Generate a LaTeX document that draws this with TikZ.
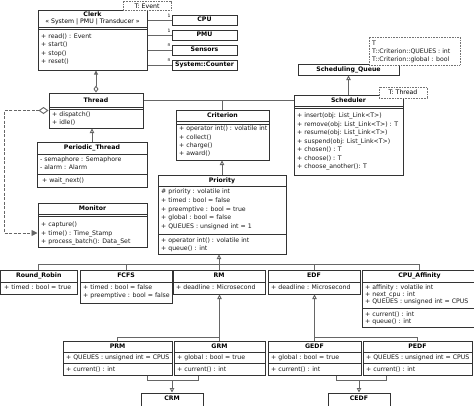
\documentclass[tikz,border=0pt]{standalone}
\usepackage{fontspec}
\setmainfont{DejaVu Sans}
\usetikzlibrary{arrows.meta,fit}
\newcounter{umlc}
\newcommand\umlbox[5]{\node[box, fit={(#2,#3) (#4,#5)}] (#1) {};}
\newcommand\umltitle[3]{\stepcounter{umlc}\node[ttl] (t\arabic{umlc}) at (#1,#2) {#3};}
\newcommand\umlmem[3]{\stepcounter{umlc}\node[mem] (m\arabic{umlc}) at (#1,#2) {#3};}
\newcommand\umlsep[3]{\draw[sep] (#1,#3) -- (#2,#3);}
\begin{document}
\begin{tikzpicture}[x=1pt,y=-1pt,
  font=\fontsize{6.2}{7.5}\selectfont,
  box/.style={draw=black!80, line width=1pt, fill=white, inner sep=0pt},
  sep/.style={draw=black!80, line width=0.6pt},
  ttl/.style={font=\fontsize{6.2}{7.5}\selectfont\bfseries, inner sep=0pt, text height=4.6pt, text depth=1.2pt},
  mem/.style={anchor=west, inner sep=0pt, text height=4.6pt, text depth=1.2pt, text=black!90},
  conn/.style={draw=black!60, line width=0.9pt},
  tmpl/.style={draw=black!55, dash pattern=on 0.8pt off 0.8pt, line width=0.6pt, fill=white, inner sep=0pt},
  gen/.style={conn, -{Triangle[open, length=4.5pt, width=4.5pt]}},
  mult/.style={font=\fontsize{4.5}{5}\selectfont, inner sep=0pt},
]
\useasboundingbox (0,0) rectangle (474,405);

% ---------- Clerk and peripherals ----------
\umlbox{clerk}{38}{10}{147}{70}
\umltitle{92.5}{14.5}{Clerk}
\node[inner sep=0pt, text height=4.6pt, text depth=1.2pt] (clerkst) at (92.5,22) {« System | PMU | Transducer »};
\umlsep{38}{147}{26.8}
\umlsep{38}{147}{29.3}
\umlmem{41}{37}{+ read() : Event}
\umlmem{41}{45.2}{+ start()}
\umlmem{41}{53.4}{+ stop()}
\umlmem{41}{61.6}{+ reset()}
\node[tmpl, fit={(123,0.8) (171,10.5)}] (tevent) {};
\node[inner sep=0pt] (teventl) at (147,6) {T: Event};

\umlbox{cpu}{172}{15}{237}{25}
\umltitle{204.5}{20}{CPU}
\umlbox{pmu}{172}{30}{237}{40}
\umltitle{204.5}{35}{PMU}
\umlbox{sensors}{172}{45}{237}{55}
\umltitle{204.5}{50}{Sensors}
\umlbox{counter}{172}{60}{237}{70}
\umltitle{204.5}{65}{System::Counter}

\draw[conn] (clerk.east |- cpu.west) -- (cpu.west);
\draw[conn] (clerk.east |- pmu.west) -- (pmu.west);
\draw[conn] (clerk.east |- sensors.west) -- (sensors.west);
\draw[conn] (clerk.east |- counter.west) -- (counter.west);
\node[mult] (mu1) at (169,15.5) {1};
\node[mult] (mu2) at (169,30.5) {1};
\node[mult] (mu3) at (169,45.5) {n};
\node[mult] (mu4) at (169,60.5) {n};

% ---------- Thread ----------
\umlbox{thread}{49}{93}{143}{128}
\umltitle{96}{100.5}{Thread}
\umlsep{49}{143}{107}
\umlsep{49}{143}{109.5}
\umlmem{52}{114.5}{+ dispatch()}
\umlmem{52}{122.8}{+ idle()}

\umlbox{pthread}{37}{142}{147}{187}
\umltitle{92}{147.5}{Periodic\_Thread}
\umlsep{37}{147}{153.8}
\umlmem{40}{160}{- semaphore : Semaphore}
\umlmem{40}{168}{- alarm : Alarm}
\umlsep{37}{147}{174}
\umlmem{42}{180.3}{+ wait\_next()}

\umlbox{monitor}{38}{203}{147}{247}
\umltitle{92.5}{209}{Monitor}
\umlsep{38}{147}{214}
\umlsep{38}{147}{216.4}
\umlmem{41}{225}{+ capture()}
\umlmem{41}{233.3}{+ time() : Time\_Stamp}
\umlmem{41}{241.6}{+ process\_batch(): Data\_Set}

\draw[conn, {Diamond[open,length=7pt,width=5pt]}-{Triangle[length=4pt,width=4pt]}] (thread.north) -- (thread.north |- clerk.south);
\draw[gen] (pthread.north) -- (pthread.north |- thread.south);
\draw[conn, dash pattern=on 3pt off 1.5pt, {Diamond[open,length=10pt,width=7pt]}-{Triangle[length=6pt,width=6pt]}] (thread.west) -- ++(-44,0) |- ([yshift=-8pt]monitor.west);

% ---------- Criterion ----------
\umlbox{criterion}{176}{110}{269}{160}
\umltitle{222.5}{116}{Criterion}
\umlsep{176}{269}{121.7}
\umlsep{176}{269}{123.9}
\umlmem{179}{129.2}{+ operator int() : volatile int}
\umlmem{179}{137.3}{+ collect()}
\umlmem{179}{145.3}{+ charge()}
\umlmem{179}{153.3}{+ award()}

% ---------- Scheduler ----------
\umlbox{squeue}{298}{64}{399}{75}
\umltitle{348.5}{70}{Scheduling\_Queue}
\node[tmpl, fit={(369,37) (460,65)}] (tsq) {};
\node[mem] (tsq1) at (372,43.3) {T};
\node[mem] (tsq2) at (372,51.7) {T::Criterion::QUEUES : int};
\node[mem] (tsq3) at (372,60) {T::Criterion::global : bool};

\umlbox{scheduler}{294}{95}{403}{175}
\umltitle{348.5}{101}{Scheduler}
\umlsep{294}{403}{106}
\umlsep{294}{403}{108.3}
\umlmem{297}{116}{+ insert(obj: List\_Link<T>)}
\umlmem{297}{124.4}{+ remove(obj: List\_Link<T>) : T}
\umlmem{297}{133.1}{+ resume(obj: List\_Link<T>)}
\umlmem{297}{141.6}{+ suspend(obj: List\_Link<T>)}
\umlmem{297}{150.1}{+ chosen() : T}
\umlmem{297}{158.7}{+ choose() : T}
\umlmem{297}{167.2}{+ choose\_another(): T}
\node[tmpl, fit={(379,87) (427,98)}] (tthread) {};
\node[inner sep=0pt] (tthreadl) at (403,92.5) {T: Thread};

\coordinate (assoc) at (0,100);
\draw[conn] (thread.east |- assoc) -- (scheduler.west |- assoc);
\draw[conn] (criterion.north) -- (criterion.north |- assoc);
\draw[gen] (scheduler.north) -- (scheduler.north |- squeue.south);

% ---------- Priority ----------
\umlbox{priority}{158}{175}{286}{254}
\umltitle{222}{180.5}{Priority}
\umlsep{158}{286}{186}
\umlmem{161}{192}{\# priority : volatile int}
\umlmem{161}{200.8}{+ timed : bool = false}
\umlmem{161}{209.4}{+ preemptive : bool = true}
\umlmem{161}{218.2}{+ global : bool = false}
\umlmem{161}{227}{+ QUEUES : unsigned int = 1}
\umlsep{158}{286}{234}
\umlmem{161}{241}{+ operator int() : volatile int}
\umlmem{161}{249}{+ queue() : int}
\draw[gen] (priority.north) -- (priority.north |- criterion.south);

% ---------- Policies ----------
\umlbox{rr}{0.5}{270}{77}{294}
\umltitle{38.75}{276}{Round\_Robin}
\umlsep{0.5}{77}{282}
\umlmem{4}{288}{+ timed : bool = true}

\umlbox{fcfs}{80}{270}{172}{303}
\umltitle{126}{276}{FCFS}
\umlsep{80}{172}{282}
\umlmem{83}{288}{+ timed : bool = false}
\umlmem{83}{296}{+ preemptive : bool = false}

\umlbox{rm}{173}{270}{265}{294}
\umltitle{219}{276}{RM}
\umlsep{173}{265}{282}
\umlmem{176}{288}{+ deadline : Microsecond}

\umlbox{edf}{268}{270}{360}{294}
\umltitle{314}{276}{EDF}
\umlsep{268}{360}{282}
\umlmem{271}{288}{+ deadline : Microsecond}

\umlbox{cpuaff}{362}{270}{477}{327}
\umltitle{419.5}{276}{CPU\_Affinity}
\umlsep{362}{477}{282}
\umlmem{365}{287.8}{+ affinity : volatile int}
\umlmem{365}{295}{+ next\_cpu : int}
\umlmem{365}{302.2}{+ QUEUES : unsigned int = CPUS}
\umlsep{362}{477}{308}
\umlmem{365}{314.3}{+ current() : int}
\umlmem{365}{322}{+ queue() : int}

\coordinate (bar1) at (0,264);
\draw[conn] (rr.north) -- (rr.north |- bar1) -- (cpuaff.north |- bar1) -- (cpuaff.north);
\draw[conn] (fcfs.north) -- (fcfs.north |- bar1);
\draw[conn] (edf.north) -- (edf.north |- bar1);
\draw[gen] (rm.north) -- (rm.north |- priority.south);

% ---------- Variants ----------
\umlbox{prm}{63}{341}{172}{375}
\umltitle{117.5}{347}{PRM}
\umlsep{63}{172}{352.4}
\umlmem{66}{357.8}{+ QUEUES : unsigned int = CPUS}
\umlsep{63}{172}{363.4}
\umlmem{66}{370}{+ current() : int}

\umlbox{grm}{174}{341}{265}{375}
\umltitle{219.5}{347}{GRM}
\umlsep{174}{265}{352.4}
\umlmem{177}{357.8}{+ global : bool = true}
\umlsep{174}{265}{363.4}
\umlmem{177}{370}{+ current() : int}

\umlbox{gedf}{268}{341}{361}{375}
\umltitle{314.5}{347}{GEDF}
\umlsep{268}{361}{352.4}
\umlmem{271}{357.8}{+ global : bool = true}
\umlsep{268}{361}{363.4}
\umlmem{271}{370}{+ current() : int}

\umlbox{pedf}{363}{341}{472}{375}
\umltitle{417.5}{347}{PEDF}
\umlsep{363}{472}{352.4}
\umlmem{366}{357.8}{+ QUEUES : unsigned int = CPUS}
\umlsep{363}{472}{363.4}
\umlmem{366}{370}{+ current() : int}

\umlbox{crm}{141}{393}{203}{412}
\umltitle{172}{399}{CRM}
\umlbox{cedf}{328}{393}{390}{412}
\umltitle{359}{399}{CEDF}

\coordinate (bar2) at (0,337);
\coordinate (bar3) at (0,380);
\draw[gen] (grm.north) -- (grm.north |- rm.south);
\draw[conn] (prm.north) -- (prm.north |- bar2) -- (grm.north |- bar2);
\draw[gen] (gedf.north) -- (gedf.north |- edf.south);
\draw[conn] (pedf.north) -- (pedf.north |- bar2) -- (gedf.north |- bar2);

\coordinate (prmb) at ([xshift=30pt]prm.south);
\coordinate (grmb) at ([xshift=-21.5pt]grm.south);
\coordinate (gedfb) at ([xshift=21.5pt]gedf.south);
\coordinate (pedfb) at ([xshift=-31.5pt]pedf.south);
\draw[conn] (prmb) -- (prmb |- bar3) -- (grmb |- bar3) -- (grmb);
\draw[gen] (crm.north |- bar3) -- (crm.north);
\draw[conn] (gedfb) -- (gedfb |- bar3) -- (pedfb |- bar3) -- (pedfb);
\draw[gen] (cedf.north |- bar3) -- (cedf.north);
\end{tikzpicture}
\end{document}
